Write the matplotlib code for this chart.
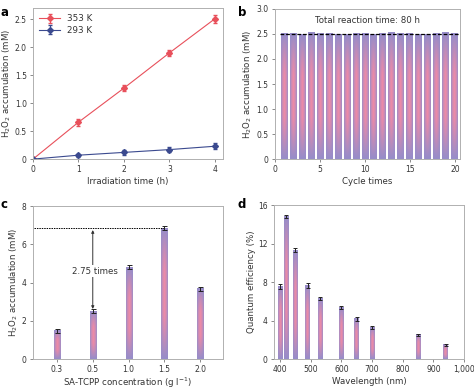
import matplotlib
matplotlib.use('Agg')
import matplotlib.pyplot as plt
import numpy as np
from matplotlib.colors import to_rgb

# panel a
time_h = [0, 1, 2, 3, 4]
h2o2_353 = [0, 0.66, 1.27, 1.90, 2.51]
err_353 = [0.01, 0.06, 0.06, 0.06, 0.07]
h2o2_293 = [0, 0.07, 0.12, 0.17, 0.23]
err_293 = [0.01, 0.03, 0.04, 0.05, 0.05]

# panel b
cycles = list(range(1, 21))
cycle_vals = [2.51, 2.50, 2.49, 2.52, 2.50, 2.50, 2.49, 2.49, 2.51, 2.50,
              2.49, 2.50, 2.52, 2.51, 2.50, 2.48, 2.49, 2.50, 2.52, 2.50]

# panel c
conc_labels = ['0.3', '0.5', '1.0', '1.5', '2.0']
conc_vals = [1.47, 2.50, 4.80, 6.85, 3.68]
conc_err = [0.10, 0.10, 0.10, 0.10, 0.10]

# panel d
wavelength = [400, 420, 450, 490, 530, 600, 650, 700, 850, 940]
qe = [7.5, 14.8, 11.3, 7.6, 6.3, 5.4, 4.2, 3.3, 2.5, 1.5]
qe_err = [0.25, 0.2, 0.2, 0.25, 0.15, 0.15, 0.2, 0.15, 0.1, 0.1]

purple = np.array(to_rgb('#978dc9'))
pink = np.array(to_rgb('#f08aa6'))
txt = '#333333'
spine_c = '#b0b0b0'

plt.rcParams['font.family'] = 'DejaVu Sans'
plt.rcParams['font.size'] = 5.5
plt.rcParams['text.color'] = txt
plt.rcParams['axes.labelcolor'] = txt
plt.rcParams['xtick.color'] = '#777777'
plt.rcParams['ytick.color'] = '#777777'
plt.rcParams['xtick.labelcolor'] = txt
plt.rcParams['ytick.labelcolor'] = txt

LAB = 6.2


def grad_bar(ax, x, h, w):
    # lavender edges, pink core in the middle of each bar
    nx, ny = 21, 80
    u = np.linspace(-1, 1, nx)
    v = np.linspace(0, 1, ny)
    U, V = np.meshgrid(u, v)
    hor = np.clip(1 - np.abs(U), 0, 1) ** 0.6
    ver = np.clip(np.sin(np.pi * V) * 1.15, 0, 1)
    t = np.clip(hor * ver, 0, 1)[..., None]
    img = purple * (1 - t) + pink * t
    ax.imshow(img, extent=[x - w / 2, x + w / 2, 0, h], origin='lower',
              aspect='auto', interpolation='bilinear', zorder=2)


def style(ax):
    for s in ax.spines.values():
        s.set_color(spine_c)
        s.set_linewidth(0.7)
    ax.tick_params(length=2.5, width=0.6, labelsize=5.5, pad=2)


fig = plt.figure(figsize=(4.74, 3.89), dpi=100)
axa = fig.add_axes([0.0696, 0.591, 0.401, 0.388])
axb = fig.add_axes([0.580, 0.591, 0.390, 0.386])
axc = fig.add_axes([0.0696, 0.077, 0.401, 0.393])
axd = fig.add_axes([0.578, 0.077, 0.401, 0.396])

# a
axa.errorbar(time_h, h2o2_353, yerr=err_353, color='#e8505b', marker='D', ms=3,
             lw=0.8, capsize=1.5, elinewidth=0.8, label='353 K')
axa.errorbar(time_h, h2o2_293, yerr=err_293, color='#3b4a8f', marker='D', ms=3,
             lw=0.8, capsize=1.5, elinewidth=0.8, label='293 K')
axa.set_xlim(0, 4.18)
axa.set_ylim(0, 2.7)
axa.set_xticks([0, 1, 2, 3, 4])
axa.set_yticks([0, 0.5, 1.0, 1.5, 2.0, 2.5])
axa.set_yticklabels(['0', '0.5', '1.0', '1.5', '2.0', '2.5'])
axa.set_xlabel('Irradiation time (h)', fontsize=LAB, labelpad=2)
axa.set_ylabel('H$_2$O$_2$ accumulation (mM)', fontsize=LAB, labelpad=1.5)
axa.legend(loc='upper left', frameon=False, fontsize=6.3, handlelength=2.4,
           borderaxespad=0.3, labelspacing=0.3)
style(axa)

# b
for x, h in zip(cycles, cycle_vals):
    grad_bar(axb, x, h, 0.75)
axb.plot([0.6, 20.45], [2.5, 2.5], ls=(0, (3, 1.5)), color='black', lw=0.9, zorder=3)
axb.text(10.3, 2.76, 'Total reaction time: 80 h', ha='center', va='center', fontsize=LAB)
axb.set_xlim(0, 20.55)
axb.set_ylim(0, 3.0)
axb.set_xticks([0, 5, 10, 15, 20])
axb.set_yticks([0, 0.5, 1.0, 1.5, 2.0, 2.5, 3.0])
axb.set_yticklabels(['0', '0.5', '1.0', '1.5', '2.0', '2.5', '3.0'])
axb.set_xlabel('Cycle times', fontsize=LAB, labelpad=2)
axb.set_ylabel('H$_2$O$_2$ accumulation (mM)', fontsize=LAB, labelpad=1.5)
style(axb)

# c
pos = np.arange(len(conc_vals))
for x, h in zip(pos, conc_vals):
    grad_bar(axc, x, h, 0.17)
axc.errorbar(pos, conc_vals, yerr=conc_err, fmt='none', ecolor='#222222',
             capsize=1.8, elinewidth=0.7, capthick=0.7, zorder=4)
axc.plot([-0.65, 3], [conc_vals[3], conc_vals[3]], ls=(0, (1.5, 1)), color='black', lw=0.7)
axc.annotate('', xy=(1, 2.62), xytext=(1, 6.75),
             arrowprops=dict(arrowstyle='<|-|>', color='#333333', lw=0.7,
                             mutation_scale=4, shrinkA=0, shrinkB=0))
axc.text(1.05, 4.6, '2.75 times', ha='center', va='center', fontsize=LAB,
         bbox=dict(facecolor='white', edgecolor='none', pad=1))
axc.set_xlim(-0.67, 4.64)
axc.set_ylim(0, 8)
axc.set_xticks(pos)
axc.set_xticklabels(conc_labels)
axc.set_yticks([0, 2, 4, 6, 8])
axc.set_xlabel('SA-TCPP concentration (g l$^{-1}$)', fontsize=LAB, labelpad=1)
axc.set_ylabel('H$_2$O$_2$ accumulation (mM)', fontsize=LAB, labelpad=1.5)
style(axc)

# d
for x, h in zip(wavelength, qe):
    grad_bar(axd, x, h, 15)
axd.errorbar(wavelength, qe, yerr=qe_err, fmt='none', ecolor='#222222',
             capsize=1.5, elinewidth=0.7, capthick=0.7, zorder=4)
axd.set_xlim(380, 1000)
axd.set_ylim(0, 16)
axd.set_xticks([400, 500, 600, 700, 800, 900, 1000])
axd.set_xticklabels(['400', '500', '600', '700', '800', '900', '1,000'])
axd.set_yticks([0, 4, 8, 12, 16])
axd.set_xlabel('Wavelength (nm)', fontsize=LAB, labelpad=2)
axd.set_ylabel('Quantum efficiency (%)', fontsize=LAB, labelpad=1.5)
style(axd)

for lab, x, y in [('a', 0.002, 0.985), ('b', 0.502, 0.985), ('c', 0.002, 0.49), ('d', 0.502, 0.49)]:
    fig.text(x, y, lab, fontsize=8.5, fontweight='bold', color='black', va='top')

fig.savefig('out.png', dpi=100)
